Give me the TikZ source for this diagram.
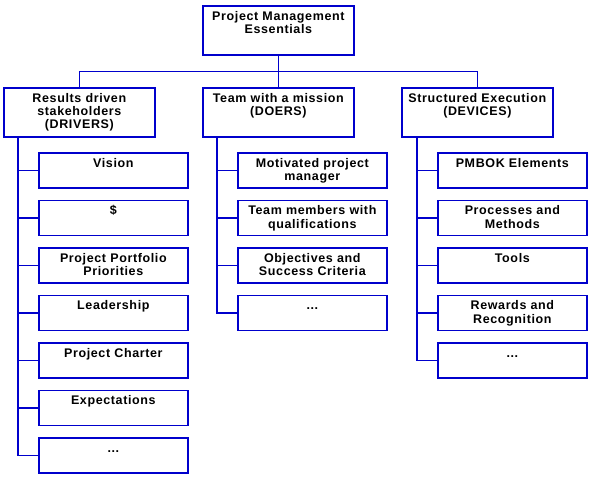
\documentclass[tikz,border=0pt]{standalone}
\usepackage{fontspec}
\setmainfont{Liberation Sans}[LetterSpace=5]
\usetikzlibrary{calc}
\definecolor{boxblue}{RGB}{0,0,204}
\newcommand{\moreitems}{...}

\begin{document}
\begin{tikzpicture}[x=1pt, y=-1pt,
	box/.style={draw=boxblue, line width=1.7pt, fill=white, anchor=north west,
		inner xsep=3pt, inner ysep=0pt, align=center,
		font=\fontsize{12.5}{13.3}\selectfont\bfseries, text height=14.5pt},
	headbox/.style={box, text width=145pt, text depth=34.5pt},
	itembox/.style={box, text width=143pt, text depth=20.5pt},
	link/.style={draw=boxblue, line width=1.3pt}]
	\useasboundingbox (0,0) rectangle (589,479);

	\node[headbox] (top) at (202,5) {Project Management\\Essentials};
	\node[headbox] (drv) at (3,87) {Results driven\\stakeholders\\(DRIVERS)};
	\node[headbox] (doe) at (202,87) {Team with a mission\\(DOERS)};
	\node[headbox] (dev) at (401,87) {Structured Execution\\(DEVICES)};

	\coordinate (bus) at ($(top.south)+(0,16)$);
	\draw[link] (top.south) -- (doe.north);
	\draw[link] (drv.north) |- (bus) -| (dev.north);

	\foreach \txt [count=\i] in
	{Vision, \$, {Project Portfolio\\Priorities}, Leadership, Project Charter, Expectations, \moreitems}
	{
		\node[itembox] (drv-\i) at (38,{104.5+47.5*\i}) {\txt};
		\draw[link] ($(drv.south west)+(15,0)$) |- (drv-\i.west);
	}
	\foreach \txt [count=\i] in
	{{Motivated project\\manager}, {Team members with\\qualifications}, {Objectives and\\Success Criteria}, \moreitems}
	{
		\node[itembox] (doe-\i) at (237,{104.5+47.5*\i}) {\txt};
		\draw[link] ($(doe.south west)+(15,0)$) |- (doe-\i.west);
	}
	\foreach \txt [count=\i] in
	{PMBOK Elements, {Processes and\\Methods}, Tools, {Rewards and\\Recognition}, \moreitems}
	{
		\node[itembox] (dev-\i) at (437,{104.5+47.5*\i}) {\txt};
		\draw[link] ($(dev.south west)+(16,0)$) |- (dev-\i.west);
	}
\end{tikzpicture}
\end{document}
